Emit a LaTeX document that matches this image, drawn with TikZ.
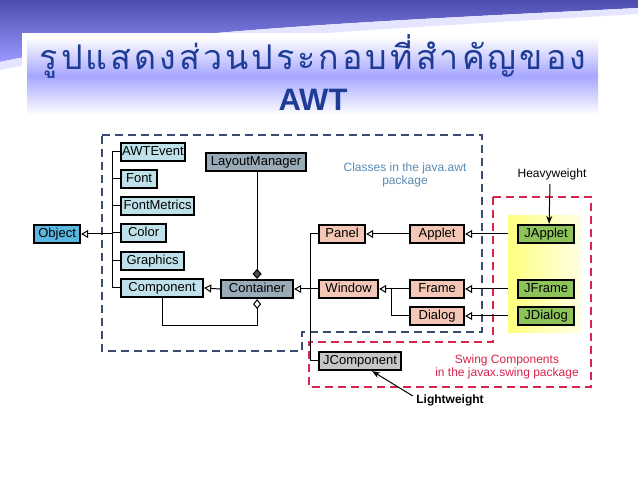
\documentclass[tikz,border=0pt]{standalone}
\usepackage{fontspec}
\setmainfont{Liberation Sans}
\newfontfamily\thaifont[Script=Thai,LetterSpace=9]{Loma}
\usetikzlibrary{arrows.meta}
\definecolor{objc}{HTML}{5BB6E0}
\definecolor{awtc}{HTML}{BFE2EA}
\definecolor{contc}{HTML}{9AABB8}
\definecolor{pinkc}{HTML}{F3C6B6}
\definecolor{greenc}{HTML}{8DC35A}
\definecolor{grayc}{HTML}{C6C6C6}
\definecolor{titlec}{HTML}{1E3C96}
\definecolor{bluedash}{HTML}{3A4A70}
\definecolor{reddash}{HTML}{D8244E}
\definecolor{steel}{HTML}{5A8CB4}
\tikzset{
 cls/.style={draw=black,line width=2.2pt,inner sep=1pt,minimum width=#1,minimum height=18pt,font=\fontsize{13}{14}\selectfont,anchor=west,text height=9pt,text depth=2.5pt},
 ln/.style={line width=1pt},
 inh/.style={ln,-{Triangle[open,length=7pt,width=8pt]}},
 agg/.style={ln,-{Diamond[open,length=10pt,width=8pt]}},
 comp/.style={ln,-{Diamond[fill=black!70,length=10pt,width=9pt]}},
 ptr/.style={ln,-{Stealth[length=8pt]}},
 lbl/.style={font=\fontsize{12}{13.5}\selectfont,align=center},
}
\begin{document}
\begin{tikzpicture}[x=1pt,y=-1pt]
\useasboundingbox (0,0) rectangle (638,478);
\fill[white] (0,0) rectangle (638,478);
% top swoosh
\shade[top color=blue!55!black!70,bottom color=blue!40!white] (0,0) -- (638,0) -- (638,8) .. controls (400,20) and (150,30) .. (0,62) -- cycle;
\fill[blue!10] (0,62) .. controls (150,30) and (400,20) .. (638,8) -- (638,14) .. controls (400,28) and (150,40) .. (0,70) -- cycle;
% title box
\fill[white] (22,33) rectangle (603,119);
\shade[top color=white,bottom color=white,middle color=blue!35] (27,37) rectangle (598,115);
\node[text=titlec,font=\thaifont\fontsize{34}{36}\selectfont] (t1) at (313,56) {รูปแสดงส่วนประกอบที่สำคัญของ};
\node[text=titlec,font=\bfseries\fontsize{31}{33}\selectfont] (t2) at (313,100) {AWT};
% dashed boxes
\shade[left color=yellow!50,right color=yellow!10] (508,216) rectangle (582,333);
\draw[bluedash,line width=1.8pt,dash pattern=on 8pt off 5pt] (102,135) -- (482,135) -- (482,332) -- (302,332) -- (302,351) -- (102,351) -- cycle;
\draw[reddash,line width=1.8pt,dash pattern=on 8pt off 5pt] (493,197) -- (591,197) -- (591,387) -- (309,387) -- (309,342) -- (493,342) -- cycle;
% nodes
\node[cls=46pt,fill=objc] (obj) at (33,234) {Object};
\node[cls=63pt,fill=awtc] (evt) at (120,152) {AWTEvent};
\node[cls=36pt,fill=awtc] (font) at (120,179) {Font};
\node[cls=73pt,fill=awtc] (fm) at (120,206) {FontMetrics};
\node[cls=45pt,fill=awtc] (col) at (120,233) {Color};
\node[cls=63pt,fill=awtc] (gr) at (120,261) {Graphics};
\node[cls=82pt,fill=awtc] (cmp) at (120,288) {Component};
\node[cls=100pt,fill=contc] (lm) at (205,162) {LayoutManager};
\node[cls=72pt,fill=contc] (cont) at (220,289) {Container};
\node[cls=46pt,fill=pinkc] (pan) at (318,234) {Panel};
\node[cls=59pt,fill=pinkc] (win) at (318,289) {Window};
\node[cls=54pt,fill=pinkc] (app) at (409,234) {Applet};
\node[cls=54pt,fill=pinkc] (fr) at (409,289) {Frame};
\node[cls=54pt,fill=pinkc] (dlg) at (409,316) {Dialog};
\node[cls=56pt,fill=greenc] (japp) at (517,234) {JApplet};
\node[cls=56pt,fill=greenc] (jfr) at (517,289) {JFrame};
\node[cls=56pt,fill=greenc] (jdlg) at (517,316) {JDialog};
\node[cls=82pt,fill=grayc] (jcmp) at (318,361) {JComponent};
% labels
\node[lbl,text=steel] (lab1) at (405,175) {Classes in the java.awt\\package};
\node[lbl] (heavy) at (552,174) {Heavyweight};
\node[lbl,text=reddash] (lab2) at (507,367) {Swing Components\\in the javax.swing package};
\node[lbl,font=\bfseries\fontsize{12}{13.5}\selectfont] (light) at (450,400) {Lightweight};
\coordinate (tr1) at (112,234);
\coordinate (tr2) at (310,289);
\coordinate (tr3) at (391,289);
% connectors
\draw[ln] (evt.west) -| (112,288) -- (cmp.west);
\foreach \n in {font,fm,col,gr} \draw[ln] (\n.west) -- (\n.west -| tr1);
\draw[inh] (tr1) -- (obj.east);
\draw[inh] (cont.west) -- (cmp.east);
\draw[comp] (lm.south -| cont.north) -- (cont.north);
\draw[agg] (cmp.south) -- ++(0,27) -| (cont.south);
\draw[ln] (pan.west) -| (jcmp.west -| tr2) -- (jcmp.west);
\draw[ln] (win.west) -- (tr2);
\draw[inh] (tr2) -- (cont.east);
\draw[inh] (app.west) -- (pan.east);
\draw[inh] (fr.west) -- (win.east);
\draw[ln] (dlg.west) -| (tr3);
\draw[inh] (508,234) -- (app.east);
\draw[inh] (508,289) -- (fr.east);
\draw[inh] (508,316) -- (dlg.east);
\draw[ptr] (heavy.south) ++(-2,1) -- ([xshift=3pt]japp.north);
\draw[ptr] (light.west) ++(0,-4) -- ([xshift=12pt]jcmp.south);
\end{tikzpicture}
\end{document}
